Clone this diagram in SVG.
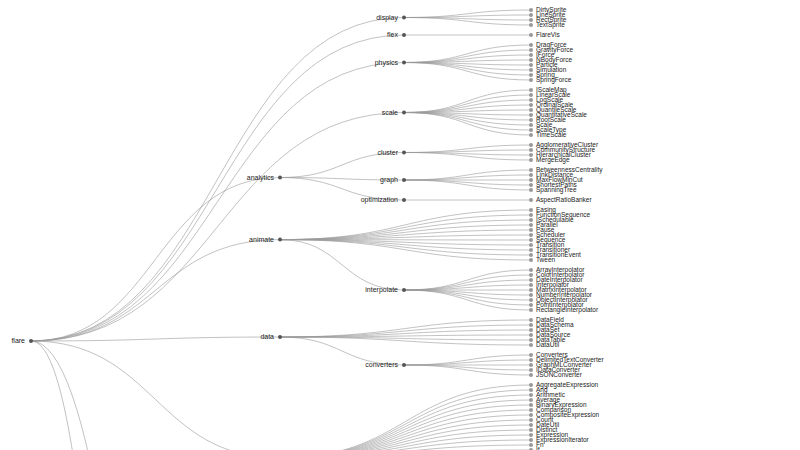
<svg xmlns="http://www.w3.org/2000/svg" width="800" height="450" viewBox="0 0 800 450">
<style>
.l{fill:none;stroke:#999;stroke-opacity:0.6;stroke-width:1}
.n{fill:#555}
.f{fill:#999}
text{font-family:"Liberation Sans",Arial,sans-serif;fill:#222}
.i{font-size:7px;text-anchor:end}
.t{font-size:6.5px}
</style>
<rect width="800" height="450" fill="#fff"/>
<g id="links">
<path class="l" d="M31,341C217.5,341 217.5,17.5 404,17.5"/>
<path class="l" d="M31,341C217.5,341 217.5,35 404,35"/>
<path class="l" d="M31,341C217.5,341 217.5,62.5 404,62.5"/>
<path class="l" d="M31,341C217.5,341 217.5,112.5 404,112.5"/>
<path class="l" d="M31,341C155.5,341 155.5,177.5 280,177.5"/>
<path class="l" d="M31,341C155.5,341 155.5,239.6 280,239.6"/>
<path class="l" d="M31,341C155.5,341 155.5,337 280,337"/>
<path class="l" d="M31,341C155.5,341 155.5,458 280,458"/>
<path class="l" d="M31,341C93,341 93,878 155,878"/>
<path class="l" d="M31,341C155.5,341 155.5,1616 280,1616"/>
<path class="l" d="M280,177.5C342,177.5 342,152.5 404,152.5"/>
<path class="l" d="M280,177.5C342,177.5 342,180 404,180"/>
<path class="l" d="M280,177.5C342,177.5 342,200 404,200"/>
<path class="l" d="M280,239.6C342,239.6 342,290 404,290"/>
<path class="l" d="M280,337C342,337 342,365 404,365"/>
<path class="l" d="M280,458C342,458 342,605 404,605"/>
<!-- display -->
<path class="l" d="M404,17.5C467.5,17.5 467.5,10 531,10"/>
<path class="l" d="M404,17.5C467.5,17.5 467.5,15 531,15"/>
<path class="l" d="M404,17.5C467.5,17.5 467.5,20 531,20"/>
<path class="l" d="M404,17.5C467.5,17.5 467.5,25 531,25"/>
<path class="l" d="M404,35L531,35"/>
<!-- physics -->
<path class="l" d="M404,62.5C467.5,62.5 467.5,45 531,45"/>
<path class="l" d="M404,62.5C467.5,62.5 467.5,50 531,50"/>
<path class="l" d="M404,62.5C467.5,62.5 467.5,55 531,55"/>
<path class="l" d="M404,62.5C467.5,62.5 467.5,60 531,60"/>
<path class="l" d="M404,62.5C467.5,62.5 467.5,65 531,65"/>
<path class="l" d="M404,62.5C467.5,62.5 467.5,70 531,70"/>
<path class="l" d="M404,62.5C467.5,62.5 467.5,75 531,75"/>
<path class="l" d="M404,62.5C467.5,62.5 467.5,80 531,80"/>
<!-- scale -->
<path class="l" d="M404,112.5C467.5,112.5 467.5,90 531,90"/>
<path class="l" d="M404,112.5C467.5,112.5 467.5,95 531,95"/>
<path class="l" d="M404,112.5C467.5,112.5 467.5,100 531,100"/>
<path class="l" d="M404,112.5C467.5,112.5 467.5,105 531,105"/>
<path class="l" d="M404,112.5C467.5,112.5 467.5,110 531,110"/>
<path class="l" d="M404,112.5C467.5,112.5 467.5,115 531,115"/>
<path class="l" d="M404,112.5C467.5,112.5 467.5,120 531,120"/>
<path class="l" d="M404,112.5C467.5,112.5 467.5,125 531,125"/>
<path class="l" d="M404,112.5C467.5,112.5 467.5,130 531,130"/>
<path class="l" d="M404,112.5C467.5,112.5 467.5,135 531,135"/>
<!-- cluster -->
<path class="l" d="M404,152.5C467.5,152.5 467.5,145 531,145"/>
<path class="l" d="M404,152.5C467.5,152.5 467.5,150 531,150"/>
<path class="l" d="M404,152.5C467.5,152.5 467.5,155 531,155"/>
<path class="l" d="M404,152.5C467.5,152.5 467.5,160 531,160"/>
<!-- graph -->
<path class="l" d="M404,180C467.5,180 467.5,170 531,170"/>
<path class="l" d="M404,180C467.5,180 467.5,175 531,175"/>
<path class="l" d="M404,180C467.5,180 467.5,180 531,180"/>
<path class="l" d="M404,180C467.5,180 467.5,185 531,185"/>
<path class="l" d="M404,180C467.5,180 467.5,190 531,190"/>
<path class="l" d="M404,200L531,200"/>
<!-- animate leaves -->
<path class="l" d="M280,239.6C405.5,239.6 405.5,210 531,210"/>
<path class="l" d="M280,239.6C405.5,239.6 405.5,215 531,215"/>
<path class="l" d="M280,239.6C405.5,239.6 405.5,220 531,220"/>
<path class="l" d="M280,239.6C405.5,239.6 405.5,225 531,225"/>
<path class="l" d="M280,239.6C405.5,239.6 405.5,230 531,230"/>
<path class="l" d="M280,239.6C405.5,239.6 405.5,235 531,235"/>
<path class="l" d="M280,239.6C405.5,239.6 405.5,240 531,240"/>
<path class="l" d="M280,239.6C405.5,239.6 405.5,245 531,245"/>
<path class="l" d="M280,239.6C405.5,239.6 405.5,250 531,250"/>
<path class="l" d="M280,239.6C405.5,239.6 405.5,255 531,255"/>
<path class="l" d="M280,239.6C405.5,239.6 405.5,260 531,260"/>
<!-- interpolate -->
<path class="l" d="M404,290C467.5,290 467.5,270 531,270"/>
<path class="l" d="M404,290C467.5,290 467.5,275 531,275"/>
<path class="l" d="M404,290C467.5,290 467.5,280 531,280"/>
<path class="l" d="M404,290C467.5,290 467.5,285 531,285"/>
<path class="l" d="M404,290C467.5,290 467.5,290 531,290"/>
<path class="l" d="M404,290C467.5,290 467.5,295 531,295"/>
<path class="l" d="M404,290C467.5,290 467.5,300 531,300"/>
<path class="l" d="M404,290C467.5,290 467.5,305 531,305"/>
<path class="l" d="M404,290C467.5,290 467.5,310 531,310"/>
<!-- data leaves -->
<path class="l" d="M280,337C405.5,337 405.5,320 531,320"/>
<path class="l" d="M280,337C405.5,337 405.5,325 531,325"/>
<path class="l" d="M280,337C405.5,337 405.5,330 531,330"/>
<path class="l" d="M280,337C405.5,337 405.5,335 531,335"/>
<path class="l" d="M280,337C405.5,337 405.5,340 531,340"/>
<path class="l" d="M280,337C405.5,337 405.5,345 531,345"/>
<!-- converters -->
<path class="l" d="M404,365C467.5,365 467.5,355 531,355"/>
<path class="l" d="M404,365C467.5,365 467.5,360 531,360"/>
<path class="l" d="M404,365C467.5,365 467.5,365 531,365"/>
<path class="l" d="M404,365C467.5,365 467.5,370 531,370"/>
<path class="l" d="M404,365C467.5,365 467.5,375 531,375"/>
<!-- query leaves -->
<path class="l" d="M280,458C405.5,458 405.5,385 531,385"/>
<path class="l" d="M280,458C405.5,458 405.5,390 531,390"/>
<path class="l" d="M280,458C405.5,458 405.5,395 531,395"/>
<path class="l" d="M280,458C405.5,458 405.5,400 531,400"/>
<path class="l" d="M280,458C405.5,458 405.5,405 531,405"/>
<path class="l" d="M280,458C405.5,458 405.5,410 531,410"/>
<path class="l" d="M280,458C405.5,458 405.5,415 531,415"/>
<path class="l" d="M280,458C405.5,458 405.5,420 531,420"/>
<path class="l" d="M280,458C405.5,458 405.5,425 531,425"/>
<path class="l" d="M280,458C405.5,458 405.5,430 531,430"/>
<path class="l" d="M280,458C405.5,458 405.5,435 531,435"/>
<path class="l" d="M280,458C405.5,458 405.5,440 531,440"/>
<path class="l" d="M280,458C405.5,458 405.5,445 531,445"/>
<path class="l" d="M280,458C405.5,458 405.5,450 531,450"/>
<path class="l" d="M280,458C405.5,458 405.5,455 531,455"/>
</g>
<g id="flare"><circle class="n" cx="31" cy="341" r="2"/><text class="i" x="25" y="343.3">flare</text></g>
<g id="display"><circle class="n" cx="404" cy="17.5" r="2"/><text class="i" x="398" y="19.8">display</text></g>
<g id="flex"><circle class="n" cx="404" cy="35" r="2"/><text class="i" x="398" y="37.3">flex</text></g>
<g id="physics"><circle class="n" cx="404" cy="62.5" r="2"/><text class="i" x="398" y="64.8">physics</text></g>
<g id="scale"><circle class="n" cx="404" cy="112.5" r="2"/><text class="i" x="398" y="114.8">scale</text></g>
<g id="analytics"><circle class="n" cx="280" cy="177.5" r="2"/><text class="i" x="274" y="179.8">analytics</text></g>
<g id="cluster"><circle class="n" cx="404" cy="152.5" r="2"/><text class="i" x="398" y="154.8">cluster</text></g>
<g id="graph"><circle class="n" cx="404" cy="180" r="2"/><text class="i" x="398" y="182.3">graph</text></g>
<g id="optimization"><circle class="n" cx="404" cy="200" r="2"/><text class="i" x="398" y="202.3">optimization</text></g>
<g id="animate"><circle class="n" cx="280" cy="239.6" r="2"/><text class="i" x="274" y="241.9">animate</text></g>
<g id="interpolate"><circle class="n" cx="404" cy="290" r="2"/><text class="i" x="398" y="292.3">interpolate</text></g>
<g id="data"><circle class="n" cx="280" cy="337" r="2"/><text class="i" x="274" y="339.3">data</text></g>
<g id="converters"><circle class="n" cx="404" cy="365" r="2"/><text class="i" x="398" y="367.3">converters</text></g>
<g id="leaves">
<g id="DirtySprite"><circle class="f" cx="531" cy="10" r="2"/><text class="t" x="536" y="12.2">DirtySprite</text></g>
<g id="LineSprite"><circle class="f" cx="531" cy="15" r="2"/><text class="t" x="536" y="17.2">LineSprite</text></g>
<g id="RectSprite"><circle class="f" cx="531" cy="20" r="2"/><text class="t" x="536" y="22.2">RectSprite</text></g>
<g id="TextSprite"><circle class="f" cx="531" cy="25" r="2"/><text class="t" x="536" y="27.2">TextSprite</text></g>
<g id="FlareVis"><circle class="f" cx="531" cy="35" r="2"/><text class="t" x="536" y="37.2">FlareVis</text></g>
<g id="DragForce"><circle class="f" cx="531" cy="45" r="2"/><text class="t" x="536" y="47.2">DragForce</text></g>
<g id="GravityForce"><circle class="f" cx="531" cy="50" r="2"/><text class="t" x="536" y="52.2">GravityForce</text></g>
<g id="IForce"><circle class="f" cx="531" cy="55" r="2"/><text class="t" x="536" y="57.2">IForce</text></g>
<g id="NBodyForce"><circle class="f" cx="531" cy="60" r="2"/><text class="t" x="536" y="62.2">NBodyForce</text></g>
<g id="Particle"><circle class="f" cx="531" cy="65" r="2"/><text class="t" x="536" y="67.2">Particle</text></g>
<g id="Simulation"><circle class="f" cx="531" cy="70" r="2"/><text class="t" x="536" y="72.2">Simulation</text></g>
<g id="Spring"><circle class="f" cx="531" cy="75" r="2"/><text class="t" x="536" y="77.2">Spring</text></g>
<g id="SpringForce"><circle class="f" cx="531" cy="80" r="2"/><text class="t" x="536" y="82.2">SpringForce</text></g>
<g id="IScaleMap"><circle class="f" cx="531" cy="90" r="2"/><text class="t" x="536" y="92.2">IScaleMap</text></g>
<g id="LinearScale"><circle class="f" cx="531" cy="95" r="2"/><text class="t" x="536" y="97.2">LinearScale</text></g>
<g id="LogScale"><circle class="f" cx="531" cy="100" r="2"/><text class="t" x="536" y="102.2">LogScale</text></g>
<g id="OrdinalScale"><circle class="f" cx="531" cy="105" r="2"/><text class="t" x="536" y="107.2">OrdinalScale</text></g>
<g id="QuantileScale"><circle class="f" cx="531" cy="110" r="2"/><text class="t" x="536" y="112.2">QuantileScale</text></g>
<g id="QuantitativeScale"><circle class="f" cx="531" cy="115" r="2"/><text class="t" x="536" y="117.2">QuantitativeScale</text></g>
<g id="RootScale"><circle class="f" cx="531" cy="120" r="2"/><text class="t" x="536" y="122.2">RootScale</text></g>
<g id="Scale"><circle class="f" cx="531" cy="125" r="2"/><text class="t" x="536" y="127.2">Scale</text></g>
<g id="ScaleType"><circle class="f" cx="531" cy="130" r="2"/><text class="t" x="536" y="132.2">ScaleType</text></g>
<g id="TimeScale"><circle class="f" cx="531" cy="135" r="2"/><text class="t" x="536" y="137.2">TimeScale</text></g>
<g id="AgglomerativeCluster"><circle class="f" cx="531" cy="145" r="2"/><text class="t" x="536" y="147.2">AgglomerativeCluster</text></g>
<g id="CommunityStructure"><circle class="f" cx="531" cy="150" r="2"/><text class="t" x="536" y="152.2">CommunityStructure</text></g>
<g id="HierarchicalCluster"><circle class="f" cx="531" cy="155" r="2"/><text class="t" x="536" y="157.2">HierarchicalCluster</text></g>
<g id="MergeEdge"><circle class="f" cx="531" cy="160" r="2"/><text class="t" x="536" y="162.2">MergeEdge</text></g>
<g id="BetweennessCentrality"><circle class="f" cx="531" cy="170" r="2"/><text class="t" x="536" y="172.2">BetweennessCentrality</text></g>
<g id="LinkDistance"><circle class="f" cx="531" cy="175" r="2"/><text class="t" x="536" y="177.2">LinkDistance</text></g>
<g id="MaxFlowMinCut"><circle class="f" cx="531" cy="180" r="2"/><text class="t" x="536" y="182.2">MaxFlowMinCut</text></g>
<g id="ShortestPaths"><circle class="f" cx="531" cy="185" r="2"/><text class="t" x="536" y="187.2">ShortestPaths</text></g>
<g id="SpanningTree"><circle class="f" cx="531" cy="190" r="2"/><text class="t" x="536" y="192.2">SpanningTree</text></g>
<g id="AspectRatioBanker"><circle class="f" cx="531" cy="200" r="2"/><text class="t" x="536" y="202.2">AspectRatioBanker</text></g>
<g id="Easing"><circle class="f" cx="531" cy="210" r="2"/><text class="t" x="536" y="212.2">Easing</text></g>
<g id="FunctionSequence"><circle class="f" cx="531" cy="215" r="2"/><text class="t" x="536" y="217.2">FunctionSequence</text></g>
<g id="ISchedulable"><circle class="f" cx="531" cy="220" r="2"/><text class="t" x="536" y="222.2">ISchedulable</text></g>
<g id="Parallel"><circle class="f" cx="531" cy="225" r="2"/><text class="t" x="536" y="227.2">Parallel</text></g>
<g id="Pause"><circle class="f" cx="531" cy="230" r="2"/><text class="t" x="536" y="232.2">Pause</text></g>
<g id="Scheduler"><circle class="f" cx="531" cy="235" r="2"/><text class="t" x="536" y="237.2">Scheduler</text></g>
<g id="Sequence"><circle class="f" cx="531" cy="240" r="2"/><text class="t" x="536" y="242.2">Sequence</text></g>
<g id="Transition"><circle class="f" cx="531" cy="245" r="2"/><text class="t" x="536" y="247.2">Transition</text></g>
<g id="Transitioner"><circle class="f" cx="531" cy="250" r="2"/><text class="t" x="536" y="252.2">Transitioner</text></g>
<g id="TransitionEvent"><circle class="f" cx="531" cy="255" r="2"/><text class="t" x="536" y="257.2">TransitionEvent</text></g>
<g id="Tween"><circle class="f" cx="531" cy="260" r="2"/><text class="t" x="536" y="262.2">Tween</text></g>
<g id="ArrayInterpolator"><circle class="f" cx="531" cy="270" r="2"/><text class="t" x="536" y="272.2">ArrayInterpolator</text></g>
<g id="ColorInterpolator"><circle class="f" cx="531" cy="275" r="2"/><text class="t" x="536" y="277.2">ColorInterpolator</text></g>
<g id="DateInterpolator"><circle class="f" cx="531" cy="280" r="2"/><text class="t" x="536" y="282.2">DateInterpolator</text></g>
<g id="Interpolator"><circle class="f" cx="531" cy="285" r="2"/><text class="t" x="536" y="287.2">Interpolator</text></g>
<g id="MatrixInterpolator"><circle class="f" cx="531" cy="290" r="2"/><text class="t" x="536" y="292.2">MatrixInterpolator</text></g>
<g id="NumberInterpolator"><circle class="f" cx="531" cy="295" r="2"/><text class="t" x="536" y="297.2">NumberInterpolator</text></g>
<g id="ObjectInterpolator"><circle class="f" cx="531" cy="300" r="2"/><text class="t" x="536" y="302.2">ObjectInterpolator</text></g>
<g id="PointInterpolator"><circle class="f" cx="531" cy="305" r="2"/><text class="t" x="536" y="307.2">PointInterpolator</text></g>
<g id="RectangleInterpolator"><circle class="f" cx="531" cy="310" r="2"/><text class="t" x="536" y="312.2">RectangleInterpolator</text></g>
<g id="DataField"><circle class="f" cx="531" cy="320" r="2"/><text class="t" x="536" y="322.2">DataField</text></g>
<g id="DataSchema"><circle class="f" cx="531" cy="325" r="2"/><text class="t" x="536" y="327.2">DataSchema</text></g>
<g id="DataSet"><circle class="f" cx="531" cy="330" r="2"/><text class="t" x="536" y="332.2">DataSet</text></g>
<g id="DataSource"><circle class="f" cx="531" cy="335" r="2"/><text class="t" x="536" y="337.2">DataSource</text></g>
<g id="DataTable"><circle class="f" cx="531" cy="340" r="2"/><text class="t" x="536" y="342.2">DataTable</text></g>
<g id="DataUtil"><circle class="f" cx="531" cy="345" r="2"/><text class="t" x="536" y="347.2">DataUtil</text></g>
<g id="Converters"><circle class="f" cx="531" cy="355" r="2"/><text class="t" x="536" y="357.2">Converters</text></g>
<g id="DelimitedTextConverter"><circle class="f" cx="531" cy="360" r="2"/><text class="t" x="536" y="362.2">DelimitedTextConverter</text></g>
<g id="GraphMLConverter"><circle class="f" cx="531" cy="365" r="2"/><text class="t" x="536" y="367.2">GraphMLConverter</text></g>
<g id="IDataConverter"><circle class="f" cx="531" cy="370" r="2"/><text class="t" x="536" y="372.2">IDataConverter</text></g>
<g id="JSONConverter"><circle class="f" cx="531" cy="375" r="2"/><text class="t" x="536" y="377.2">JSONConverter</text></g>
<g id="AggregateExpression"><circle class="f" cx="531" cy="385" r="2"/><text class="t" x="536" y="387.2">AggregateExpression</text></g>
<g id="And"><circle class="f" cx="531" cy="390" r="2"/><text class="t" x="536" y="392.2">And</text></g>
<g id="Arithmetic"><circle class="f" cx="531" cy="395" r="2"/><text class="t" x="536" y="397.2">Arithmetic</text></g>
<g id="Average"><circle class="f" cx="531" cy="400" r="2"/><text class="t" x="536" y="402.2">Average</text></g>
<g id="BinaryExpression"><circle class="f" cx="531" cy="405" r="2"/><text class="t" x="536" y="407.2">BinaryExpression</text></g>
<g id="Comparison"><circle class="f" cx="531" cy="410" r="2"/><text class="t" x="536" y="412.2">Comparison</text></g>
<g id="CompositeExpression"><circle class="f" cx="531" cy="415" r="2"/><text class="t" x="536" y="417.2">CompositeExpression</text></g>
<g id="Count"><circle class="f" cx="531" cy="420" r="2"/><text class="t" x="536" y="422.2">Count</text></g>
<g id="DateUtil"><circle class="f" cx="531" cy="425" r="2"/><text class="t" x="536" y="427.2">DateUtil</text></g>
<g id="Distinct"><circle class="f" cx="531" cy="430" r="2"/><text class="t" x="536" y="432.2">Distinct</text></g>
<g id="Expression"><circle class="f" cx="531" cy="435" r="2"/><text class="t" x="536" y="437.2">Expression</text></g>
<g id="ExpressionIterator"><circle class="f" cx="531" cy="440" r="2"/><text class="t" x="536" y="442.2">ExpressionIterator</text></g>
<g id="Fn"><circle class="f" cx="531" cy="445" r="2"/><text class="t" x="536" y="447.2">Fn</text></g>
<g id="If"><circle class="f" cx="531" cy="450" r="2"/><text class="t" x="536" y="452.2">If</text></g>
</g>
</svg>
